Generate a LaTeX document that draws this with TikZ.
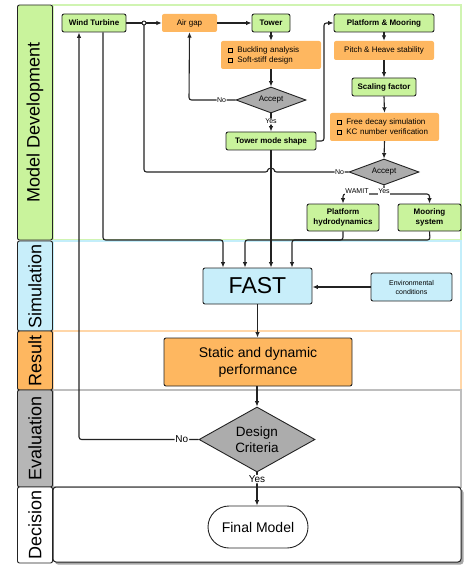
\documentclass[tikz,border=0pt]{standalone}
\usepackage{fontspec}
\setmainfont{Liberation Sans}
\usetikzlibrary{arrows.meta,shapes.geometric}
\definecolor{cgreen}{RGB}{201,243,156}
\definecolor{corange}{RGB}{254,183,96}
\definecolor{cblue}{RGB}{200,238,250}
\definecolor{cgray}{RGB}{172,172,172}
\definecolor{cbar}{RGB}{182,182,182}
\definecolor{lgreen}{RGB}{208,244,178}
\definecolor{lblue}{RGB}{195,238,250}
\definecolor{lorange}{RGB}{255,214,168}
\definecolor{lgray}{RGB}{190,190,190}
\definecolor{dline}{RGB}{35,35,35}
\newcommand{\fsz}[2]{\fontsize{#1}{#2}\selectfont}
\newcommand{\cbx}{\raisebox{0.4pt}{\fboxsep=0pt\fboxrule=0.9pt\fbox{\rule{0pt}{3pt}\hspace{3pt}}}\hspace{4.5pt}}
\begin{document}
\begin{tikzpicture}[x=1pt,y=-1pt,
  gbox/.style={draw=dline, line width=0.9pt, fill=cgreen, rounded corners=2pt, inner sep=0pt, align=center, font=\fsz{8}{9.6}\bfseries},
  obox/.style={fill=corange, rounded corners=2pt, inner sep=0pt, align=center, font=\fsz{8}{9.6}},
  olist/.style={fill=corange, rounded corners=2pt, inner sep=0pt, align=left, font=\fsz{8}{10}},
  dia/.style={diamond, draw=dline, fill=cgray, inner sep=0pt, line width=0.9pt, font=\fsz{8}{9.6}},
  bar/.style={draw=dline, line width=0.9pt, rounded corners=2pt, rotate=90, inner sep=0pt, minimum height=35pt, font=\fsz{18}{20}},
  conn/.style={line width=1.1pt, draw=dline, rounded corners=2.5pt, -{Latex[length=5.5pt,width=4.6pt]}},
  plain/.style={line width=1.1pt, draw=dline, rounded corners=2.5pt},
  lbl/.style={fill=white, inner sep=0.6pt, font=\fsz{7}{8}},
  blbl/.style={fill=white, inner sep=0.8pt, font=\fsz{10}{12}}]
\useasboundingbox (0,0) rectangle (474,569);

% lane bodies
\draw[lgreen, line width=1.2pt] (53,5) rectangle (461,240);
\draw[lblue, line width=1.2pt] (53,241) rectangle (461,331);
\draw[lorange, line width=1.2pt] (53,331) rectangle (461,390);
\draw[lgray, line width=1.2pt] (53,390) rectangle (461,487);
\fill[black!35, rounded corners=3pt] (55,489.5) rectangle (463.5,564.5);
\draw[dline, fill=white, line width=1pt, rounded corners=3pt] (53,487) rectangle (461,562);

% lane headers
\node[bar, fill=cgreen, minimum width=235pt] (hmd) at (35,122.5) {Model Development};
\node[bar, fill=cblue, minimum width=90pt] (hsim) at (35,286) {Simulation};
\node[bar, fill=corange, minimum width=59pt] (hres) at (35,360.5) {Result};
\node[bar, fill=cbar, minimum width=97pt] (heva) at (35,438.5) {Evaluation};
\node[bar, fill=white, minimum width=76pt] (hdec) at (35,525) {Decision};

% nodes
\node[gbox, minimum width=64pt, minimum height=18pt] (wt) at (94,23) {Wind Turbine};
\node[obox, minimum width=55pt, minimum height=18pt] (air) at (189.5,23) {Air gap};
\node[gbox, minimum width=38pt, minimum height=18pt] (tower) at (271,23) {Tower};
\node[olist, minimum width=100pt, minimum height=28pt, text width=86pt] (buck) at (271,55) {\cbx Buckling analysis\\\cbx Soft-stiff design};
\node[dia, minimum width=70pt, minimum height=26pt, aspect=2.7] (acc1) at (271,100) {Accept};
\node[gbox, minimum width=90pt, minimum height=18pt] (tms) at (271,141) {Tower mode shape};
\node[gbox, minimum width=100pt, minimum height=18pt] (pm) at (384,23) {Platform \& Mooring};
\node[obox, minimum width=100pt, minimum height=19pt] (pitch) at (384,50.5) {Pitch \& Heave stability};
\node[gbox, minimum width=64pt, minimum height=18pt] (scale) at (384,87) {Scaling factor};
\node[olist, minimum width=109pt, minimum height=28pt, text width=95pt] (free) at (384.5,127) {\cbx Free decay simulation\\\cbx KC number verification};
\node[dia, minimum width=70pt, minimum height=26pt, aspect=2.7] (acc2) at (384,172) {Accept};
\node[gbox, minimum width=72pt, minimum height=27pt] (ph) at (343,217.5) {Platform\\hydrodynamics};
\node[gbox, minimum width=63pt, minimum height=27pt] (moor) at (429.5,217.5) {Mooring\\system};
\node[draw=dline, fill=cblue, line width=0.9pt, rounded corners=2pt, minimum width=109pt, minimum height=36pt, inner sep=0pt, font=\fsz{23}{26}] (fast) at (257.5,286) {FAST};
\node[draw=dline, fill=cblue, line width=0.9pt, rounded corners=2pt, minimum width=81pt, minimum height=28pt, inner sep=0pt, align=center, font=\fsz{7}{9}] (env) at (411.5,287) {Environmental\\conditions};
\node[draw=dline, fill=corange, line width=0.9pt, rounded corners=2pt, minimum width=188pt, minimum height=48pt, inner sep=0pt, align=center, font=\fsz{14}{17}] (stat) at (258,362) {Static and dynamic\\performance};
\node[dia, minimum width=116pt, minimum height=65pt, aspect=1.8, align=center, font=\fsz{13.5}{16.5}] (dc) at (257,439.5) {Design\\Criteria};
\node[draw=dline, fill=white, line width=0.9pt, rounded corners=21pt, minimum width=100pt, minimum height=42pt, inner sep=0pt, font=\fsz{14}{17}] (final) at (258,527) {Final Model};

% connectors (top row)
\coordinate (junc) at (144,23);
\draw[conn] (wt.east) -- (air.west);
\draw[conn] (air.east) -- (tower.west);
\draw[conn] (tower.south) -- (buck.north);
\draw[conn] (buck.south) -- (acc1.north);
\draw[conn] (acc1.west) -- node[lbl, pos=0.3]{No} (189,100) -- (air.south);
\draw[conn] (acc1.south) -- node[lbl, pos=0.45]{Yes} (tms.north);
\draw[conn] (tms.east) -- (324,141) -- (324,23) -- (pm.west);
\draw[conn] (pm.south) -- (pitch.north);
\draw[conn] (pitch.south) -- (scale.north);
\draw[conn] (scale.south) -- (free.north);
\draw[conn] (free.south) -- (acc2.north);
% accept 2 no -> back to air gap line
\draw[plain] (acc2.west) -- node[lbl, pos=0.12]{No} (274,172) .. controls (274,168) and (268,168) .. (268,172) -- (144,172) -- (junc);
\draw[line width=0.9pt, dline, fill=white] (junc) circle[radius=2pt];
% accept 2 yes
\draw[conn] (acc2.south) -- (384,194) -| (ph.north);
\draw[conn] (384,194) -| (moor.north);
\node[lbl] (yes2) at (384,191.5) {Yes};
\node[lbl] (wamit) at (357,191.5) {WAMIT};
% into FAST
\draw[conn] (wt.south -| 103,0) |- (223,240) -- (fast.north -| 223,0);
\draw[conn] (tms.south) -- (fast.north -| tms.south);
\draw[conn] (ph.south) -- (343,240) -| (fast.north -| 292,0);
\draw[conn] (moor.south) -- (430,240) -| (fast.north -| 245,0);
\draw[conn] (env.west) -- (fast.east |- env.west);
% lower flow
\draw[conn] (fast.south) -- (stat.north -| fast.south);
\draw[conn] (stat.south -| dc.north) -- (dc.north);
\draw[conn] (dc.west) -- node[blbl, pos=0.14]{No} (79,439.5) -- (wt.south -| 79,0);
\draw[conn] (dc.south) -- node[blbl, pos=0.2]{Yes} (final.north -| dc.south);
\end{tikzpicture}
\end{document}
